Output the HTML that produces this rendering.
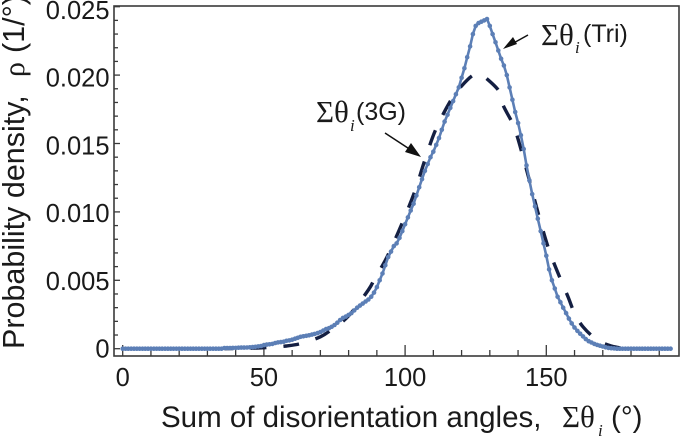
<!DOCTYPE html>
<html>
<head>
<meta charset="utf-8">
<style>
html,body{margin:0;padding:0;background:#fff;width:685px;height:438px;overflow:hidden}
svg{display:block}
text{font-family:"Liberation Sans",Arial,sans-serif;fill:#1a1a1a}
.s{font-family:"Liberation Serif","DejaVu Serif",serif}
</style>
</head>
<body>
<svg id="chart" width="685" height="438" viewBox="0 0 685 438" xmlns="http://www.w3.org/2000/svg">
<rect x="114" y="6" width="565" height="350" fill="none" stroke="#3a3a3a" stroke-width="1.6"/>
<g id="ticks"></g>
<path id="g3" fill="none" stroke="#141f42" stroke-width="3.4" stroke-dasharray="16 17"/>
<path id="tri" fill="none" stroke="#5c7fb6" stroke-width="2.6" stroke-linejoin="round"/>
<g id="triDots"></g>
<g>
<line x1="528" y1="35" x2="510" y2="45" stroke="#111" stroke-width="1.5"/>
<polygon points="503,49 513,37 517,44" fill="#111"/>
<text class="s" x="541" y="45" font-size="31">Σθ</text>
<text class="s" x="575" y="53" font-size="17" font-style="italic">i</text>
<text x="583" y="42" font-size="25">(Tri)</text>
</g>
<g>
<line x1="385" y1="133" x2="414" y2="152" stroke="#111" stroke-width="1.5"/>
<polygon points="421,157 405,152 411,143" fill="#111"/>
<text class="s" x="316" y="122" font-size="31">Σθ</text>
<text class="s" x="350" y="131" font-size="17" font-style="italic">i</text>
<text x="356" y="120" font-size="25">(3G)</text>
</g>
<text x="161" y="427" font-size="29.5">Sum of disorientation angles,</text>
<text class="s" x="562" y="427" font-size="31">Σθ</text>
<text class="s" x="598" y="436" font-size="17" font-style="italic">i</text>
<text x="611" y="427" font-size="29.5">(°)</text>
<g transform="translate(24,349) rotate(-90)">
<text x="0" y="0" font-size="30.5">Probability density,</text>
<text class="s" x="272" y="0" font-size="30">ρ</text>
<text x="296" y="0" font-size="30.5">(1/°)</text>
</g>
</svg>
<script>
// Tick labels
const xTickLabels = [0, 50, 100, 150];
const yTickLabels = ["0", "0.005", "0.010", "0.015", "0.020", "0.025"];
const xMinorTicks = [10,20,30,40,60,70,80,90,110,120,130,140,160,170,180,190];
const yMinorTicks = [0.001,0.002,0.003,0.004,0.006,0.007,0.008,0.009,0.011,0.012,0.013,0.014,0.016,0.017,0.018,0.019,0.021,0.022,0.023,0.024];

// Tri series: angle (deg) starting at 0 in 1 degree steps, density in units of 1e-4 per degree
const triValues = [
0,0,0,0,0,0,0,0,0,0,0,0,0,0,0,0,0,0,0,0,0,0,0,0,0,0,0,0,0,0,0,0,0,0,0,0,
.5,.5,.5,.6,.6,.7,.8,.8,.9,1,1.2,1.4,1.7,2,2.6,
3,3.2,3.5,4.2,4.6,4.8,5.1,5.8,6.1,6.6,
7.3,8,8.7,9.1,9.4,9.8,10.3,10.8,11.4,12.2,
13.2,14.3,15,16,17.3,19,21,22.5,23.5,24.7,
26,28,30,31.5,33,34.5,36,38,41,45,
50,55,61,67,71,75,77,81,86,91,
96,101,106,112,118,124,130,135,140,144,
149,154,160,166,171,176,181,186,191,198,
205,213,221,230,236,238,239,240,241,236,
230,224,218,212,207,200,191,182,173,165,
156,146,134,123,113,104,95,86,77,68,
58,50,44,38,34,30,26,22,18.5,15.5,
13,11,9,7,5.5,4.5,3.5,2.8,2.2,1.6,
1,.6,.4,.2,
0,0,0,0,0,0,0,0,0,0,0,0,0,0,0,0,0,0,0,0];

// 3G series: angle (deg) and density in units of 1e-4 per degree
const g3Angles = [36,47.5,52,58,63.5,70,74,80,87,89.4,93.6,99,103.6,107,111,116.6,120,123.7,126.5,128,133,134.7,138,139.6,143,147,151,155.6,157.7,160,163,168,173,178];
const g3Values = [0,.5,1,2,4,8.7,14,24,43,52,67,92,116,138,161,183,192,199.4,201,199,189,178,165,156,131,100,72,48,38,26,16,6.4,2,0];

const svgNS = "http://www.w3.org/2000/svg";
const xScale = v => 122.7 + v * 2.824;
const yScale = v => 348.7 - v * 13680;
const yLabelBaseline = v => 357.5 - v * 13548;
const ticks = document.getElementById("ticks");
const triDots = document.getElementById("triDots");

function tick(x1, y1, x2, y2) {
  const l = document.createElementNS(svgNS, "line");
  
  
  l.setAttribute("x1", x1); l.setAttribute("y1", y1);
  l.setAttribute("x2", x2); l.setAttribute("y2", y2);
  l.setAttribute("stroke", "#3a3a3a");
  l.setAttribute("stroke-width", "1.3");
  ticks.appendChild(l);
}
function label(x, y, anchor, s) {
  const t = document.createElementNS(svgNS, "text");
  
  
  t.setAttribute("x", x); t.setAttribute("y", y);
  t.setAttribute("text-anchor", anchor);
  t.setAttribute("font-size", "25.5");
  t.textContent = s;
  ticks.appendChild(t);
}
xTickLabels.forEach(v => { tick(xScale(v), 356, xScale(v), 345); label(xScale(v), 386, "middle", String(v)); });
xMinorTicks.forEach(v => tick(xScale(v), 356, xScale(v), 350));
yTickLabels.forEach(s => { const v = parseFloat(s); tick(114, yScale(v), 120, yScale(v)); label(109.5, yLabelBaseline(v), "end", s); });
yMinorTicks.forEach(v => tick(114, yScale(v), 118, yScale(v)));

// Smooth 3G curve through its points
const g3Pts = g3Values.map((v, i) => [xScale(g3Angles[i]), yScale(v * 1e-4)]);
let g3d = "M" + g3Pts[0][0].toFixed(1) + " " + g3Pts[0][1].toFixed(1);
for (let i = 0; i < g3Pts.length - 1; i++) {
  const p0 = g3Pts[Math.max(i - 1, 0)], p1 = g3Pts[i], p2 = g3Pts[i + 1], p3 = g3Pts[Math.min(i + 2, g3Pts.length - 1)];
  const c1x = p1[0] + (p2[0] - p0[0]) / 6, c1y = p1[1] + (p2[1] - p0[1]) / 6;
  const c2x = p2[0] - (p3[0] - p1[0]) / 6, c2y = p2[1] - (p3[1] - p1[1]) / 6;
  g3d += "C" + c1x.toFixed(1) + " " + c1y.toFixed(1) + " " + c2x.toFixed(1) + " " + c2y.toFixed(1) + " " + p2[0].toFixed(1) + " " + p2[1].toFixed(1);
}
const g3Path = document.getElementById("g3");
g3Path.setAttribute("d", g3d);
// Align the dash pattern so one dash sits on the curve's crest
let crestLen = 0;
while (crestLen < g3Path.getTotalLength() && g3Path.getPointAtLength(crestLen).x < xScale(125.5)) crestLen += 0.5;
g3Path.setAttribute("stroke-dashoffset", ((crestLen - 8) % 33).toFixed(1));

document.getElementById("tri").setAttribute("d", triValues.map((v, i) => (i ? "L" : "M") + xScale(i).toFixed(1) + " " + yScale(v * 1e-4).toFixed(1)).join(""));
triValues.forEach((v, i) => {
  const c = document.createElementNS(svgNS, "circle");
  
  
  c.setAttribute("cx", xScale(i).toFixed(1));
  c.setAttribute("cy", yScale(v * 1e-4).toFixed(1));
  c.setAttribute("r", "2.3");
  c.setAttribute("fill", "#5c7fb6");
  triDots.appendChild(c);
});
</script>
</body>
</html>
